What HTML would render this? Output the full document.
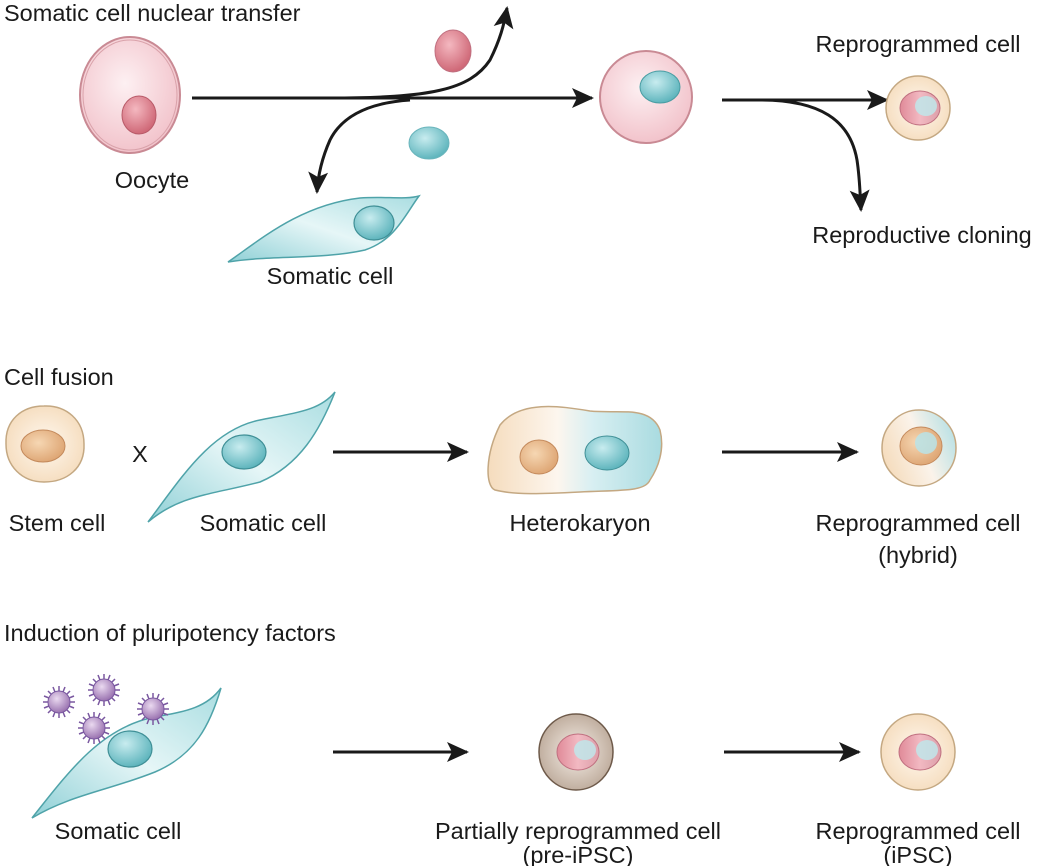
<!DOCTYPE html>
<html><head><meta charset="utf-8"><style>
html,body{margin:0;padding:0;background:#fff}
svg{display:block}
text{font-family:"Liberation Sans",sans-serif;font-size:23.5px;fill:#1a1a1a}
</style></head><body>
<svg width="1050" height="866" viewBox="0 0 1050 866" xmlns="http://www.w3.org/2000/svg">
<defs>
<radialGradient id="pinkC" cx="45%" cy="40%" r="60%"><stop offset="0" stop-color="#fdf0f2"/><stop offset="1" stop-color="#f2c3cb"/></radialGradient>
<radialGradient id="pinkN" cx="40%" cy="35%" r="65%"><stop offset="0" stop-color="#f4b8c0"/><stop offset="1" stop-color="#cf6877"/></radialGradient>
<radialGradient id="blueN" cx="40%" cy="35%" r="65%"><stop offset="0" stop-color="#c8ecef"/><stop offset="1" stop-color="#5fb5bd"/></radialGradient>
<linearGradient id="spindle" x1="0" y1="1" x2="1" y2="0"><stop offset="0" stop-color="#8fd0d6"/><stop offset="0.5" stop-color="#e6f6f7"/><stop offset="1" stop-color="#a9dde1"/></linearGradient>
<radialGradient id="beige" cx="50%" cy="50%" r="55%"><stop offset="0" stop-color="#fff8ef"/><stop offset="1" stop-color="#f5dcbd"/></radialGradient>
<radialGradient id="orangeN" cx="40%" cy="40%" r="60%"><stop offset="0" stop-color="#f6d7b3"/><stop offset="1" stop-color="#dfa877"/></radialGradient>
<linearGradient id="hetero" x1="0" y1="0" x2="1" y2="0"><stop offset="0" stop-color="#f5dcbd"/><stop offset="0.4" stop-color="#fdf6ee"/><stop offset="0.6" stop-color="#d8eff2"/><stop offset="1" stop-color="#a9dbe0"/></linearGradient>
<linearGradient id="hybrid" x1="0" y1="0.6" x2="1" y2="0.2"><stop offset="0" stop-color="#f5dcbd"/><stop offset="0.5" stop-color="#fbf3ea"/><stop offset="1" stop-color="#b3dfe4"/></linearGradient>
<radialGradient id="partial" cx="50%" cy="50%" r="55%"><stop offset="0" stop-color="#f6efe8"/><stop offset="1" stop-color="#bba898"/></radialGradient>
<linearGradient id="pinkBlue" x1="0" y1="0" x2="1" y2="0"><stop offset="0" stop-color="#e08a98"/><stop offset="0.5" stop-color="#f2b9c2"/><stop offset="1" stop-color="#dc9fa9"/></linearGradient>
<radialGradient id="virus" cx="40%" cy="35%" r="65%"><stop offset="0" stop-color="#ead9f0"/><stop offset="1" stop-color="#9a73b0"/></radialGradient>
<marker id="ah2" markerWidth="22" markerHeight="20" refX="20" refY="10" orient="auto" markerUnits="userSpaceOnUse" viewBox="0 0 22 20"><path d="M0,0 L22,10 L0,20 L5,10Z" fill="#1a1a1a"/></marker>
<g id="virusG">
<g stroke="#7a58a0" stroke-width="1.5">
<line x1="0" y1="-11" x2="0" y2="-16"/><line x1="0" y1="11" x2="0" y2="16"/><line x1="-11" y1="0" x2="-16" y2="0"/><line x1="11" y1="0" x2="16" y2="0"/>
<line x1="8" y1="8" x2="11" y2="11"/><line x1="-8" y1="8" x2="-11" y2="11"/><line x1="8" y1="-8" x2="11" y2="-11"/><line x1="-8" y1="-8" x2="-11" y2="-11"/>
<line x1="4" y1="-10" x2="6" y2="-15"/><line x1="-4" y1="10" x2="-6" y2="15"/><line x1="10" y1="4" x2="15" y2="6"/><line x1="-10" y1="-4" x2="-15" y2="-6"/>
<line x1="-4" y1="-10" x2="-6" y2="-15"/><line x1="4" y1="10" x2="6" y2="15"/><line x1="10" y1="-4" x2="15" y2="-6"/><line x1="-10" y1="4" x2="-15" y2="6"/>
</g>
<circle r="11" fill="url(#virus)" stroke="#7a58a0" stroke-width="1"/>
</g>
</defs>

<!-- Section 1 -->
<text x="4" y="21">Somatic cell nuclear transfer</text>
<ellipse cx="130" cy="95" rx="50" ry="58" fill="url(#pinkC)" stroke="#c98a94" stroke-width="2"/>
<ellipse cx="130" cy="95" rx="47" ry="55" fill="none" stroke="#d9a2aa" stroke-width="1"/>
<ellipse cx="139" cy="115" rx="17" ry="19" fill="url(#pinkN)" stroke="#b85a68" stroke-width="1"/>
<text x="152" y="188" text-anchor="middle">Oocyte</text>

<line x1="192" y1="98" x2="592" y2="98" stroke="#1a1a1a" stroke-width="3" marker-end="url(#ah2)"/>
<path d="M330,98 C430,98 470,90 490,60 C500,40 504,25 507,8" fill="none" stroke="#1a1a1a" stroke-width="3" marker-end="url(#ah2)"/>
<path d="M410,100 C380,102 345,110 330,140 C322,158 318,175 317,192" fill="none" stroke="#1a1a1a" stroke-width="3" marker-end="url(#ah2)"/>
<ellipse cx="453" cy="51" rx="18" ry="21" fill="url(#pinkN)" stroke="#c07080" stroke-width="1"/>
<ellipse cx="429" cy="143" rx="20" ry="16" fill="url(#blueN)" stroke="#6ab5bc" stroke-width="1"/>

<path d="M228,262 C260,240 300,205 360,198 C385,196 405,200 419,196 C405,215 395,240 365,250 C320,260 270,255 228,262Z" fill="url(#spindle)" stroke="#4fa3a9" stroke-width="1.5"/>
<ellipse cx="374" cy="223" rx="20" ry="17" fill="url(#blueN)" stroke="#3f8f96" stroke-width="1.2"/>
<text x="330" y="284" text-anchor="middle">Somatic cell</text>

<ellipse cx="646" cy="97" rx="46" ry="46" fill="url(#pinkC)" stroke="#c98a94" stroke-width="2"/>
<ellipse cx="660" cy="87" rx="20" ry="16" fill="url(#blueN)" stroke="#4a9da3" stroke-width="1"/>

<line x1="722" y1="100" x2="887" y2="100" stroke="#1a1a1a" stroke-width="3" marker-end="url(#ah2)"/>
<path d="M760,100 C820,100 850,120 857,160 C860,180 860,195 861,210" fill="none" stroke="#1a1a1a" stroke-width="3" marker-end="url(#ah2)"/>
<text x="918" y="52" text-anchor="middle">Reprogrammed cell</text>
<circle cx="918" cy="108" r="32" fill="url(#beige)" stroke="#c4a882" stroke-width="1.5"/>
<ellipse cx="920" cy="108" rx="20" ry="17" fill="url(#pinkBlue)" stroke="#c07080" stroke-width="1"/>
<ellipse cx="926" cy="106" rx="11" ry="10" fill="#bfe6ea" opacity="0.85"/>
<text x="922" y="243" text-anchor="middle">Reproductive cloning</text>

<!-- Section 2 -->
<text x="4" y="385">Cell fusion</text>
<path d="M44,406 C66,405 84,420 84,444 C85,468 67,482 44,482 C22,482 6,466 6,444 C5,420 22,406 44,406Z" fill="url(#beige)" stroke="#c4a882" stroke-width="1.5"/>
<ellipse cx="43" cy="446" rx="22" ry="16" fill="url(#orangeN)" stroke="#c48a5c" stroke-width="1"/>
<text x="57" y="531" text-anchor="middle">Stem cell</text>
<text x="140" y="462" text-anchor="middle">X</text>
<path d="M148,522 C180,480 210,430 260,420 C300,412 320,410 335,392 C320,430 300,465 260,482 C210,495 180,495 148,522Z" fill="url(#spindle)" stroke="#4fa3a9" stroke-width="1.5"/>
<ellipse cx="244" cy="452" rx="22" ry="17" fill="url(#blueN)" stroke="#3f8f96" stroke-width="1.2"/>
<text x="263" y="531" text-anchor="middle">Somatic cell</text>
<line x1="333" y1="452" x2="467" y2="452" stroke="#1a1a1a" stroke-width="3" marker-end="url(#ah2)"/>

<path d="M500,425 C520,400 560,406 590,411 C620,414 650,405 660,430 C665,450 658,468 650,480 C645,492 620,490 580,492 C540,494 515,495 495,490 C485,486 485,455 500,425Z" fill="url(#hetero)" stroke="#c4a882" stroke-width="1.5"/>
<ellipse cx="539" cy="457" rx="19" ry="17" fill="url(#orangeN)" stroke="#c48a5c" stroke-width="1"/>
<ellipse cx="607" cy="453" rx="22" ry="17" fill="url(#blueN)" stroke="#3f8f96" stroke-width="1"/>
<text x="580" y="531" text-anchor="middle">Heterokaryon</text>

<line x1="722" y1="452" x2="857" y2="452" stroke="#1a1a1a" stroke-width="3" marker-end="url(#ah2)"/>
<ellipse cx="919" cy="448" rx="37" ry="38" fill="url(#hybrid)" stroke="#c4a882" stroke-width="1.5"/>
<ellipse cx="921" cy="446" rx="21" ry="19" fill="url(#orangeN)" stroke="#c48a5c" stroke-width="1"/>
<ellipse cx="926" cy="443" rx="11" ry="11" fill="#b8e3e8" opacity="0.85"/>
<text x="918" y="531" text-anchor="middle">Reprogrammed cell</text>
<text x="918" y="563" text-anchor="middle">(hybrid)</text>

<!-- Section 3 -->
<text x="4" y="641">Induction of pluripotency factors</text>
<path d="M32,818 C70,770 100,730 150,718 C180,712 205,710 221,688 C210,725 195,755 155,772 C110,790 70,795 32,818Z" fill="url(#spindle)" stroke="#4fa3a9" stroke-width="1.5"/>
<ellipse cx="130" cy="749" rx="22" ry="18" fill="url(#blueN)" stroke="#3f8f96" stroke-width="1.2"/>
<use href="#virusG" x="59" y="702"/>
<use href="#virusG" x="104" y="690"/>
<use href="#virusG" x="94" y="728"/>
<use href="#virusG" x="153" y="709"/>
<text x="118" y="839" text-anchor="middle">Somatic cell</text>

<line x1="333" y1="752" x2="467" y2="752" stroke="#1a1a1a" stroke-width="3" marker-end="url(#ah2)"/>
<ellipse cx="576" cy="752" rx="37" ry="38" fill="url(#partial)" stroke="#6e5a4a" stroke-width="1.5"/>
<ellipse cx="578" cy="752" rx="21" ry="18" fill="url(#pinkBlue)" stroke="#c07080" stroke-width="1"/>
<ellipse cx="585" cy="750" rx="11" ry="10" fill="#bfe6ea" opacity="0.85"/>
<text x="578" y="839" text-anchor="middle">Partially reprogrammed cell</text>
<text x="578" y="863" text-anchor="middle">(pre-iPSC)</text>

<line x1="724" y1="752" x2="859" y2="752" stroke="#1a1a1a" stroke-width="3" marker-end="url(#ah2)"/>
<ellipse cx="918" cy="752" rx="37" ry="38" fill="url(#beige)" stroke="#c4a882" stroke-width="1.5"/>
<ellipse cx="920" cy="752" rx="21" ry="18" fill="url(#pinkBlue)" stroke="#c07080" stroke-width="1"/>
<ellipse cx="927" cy="750" rx="11" ry="10" fill="#bfe6ea" opacity="0.85"/>
<text x="918" y="839" text-anchor="middle">Reprogrammed cell</text>
<text x="918" y="863" text-anchor="middle">(iPSC)</text>
</svg>
</body></html>
